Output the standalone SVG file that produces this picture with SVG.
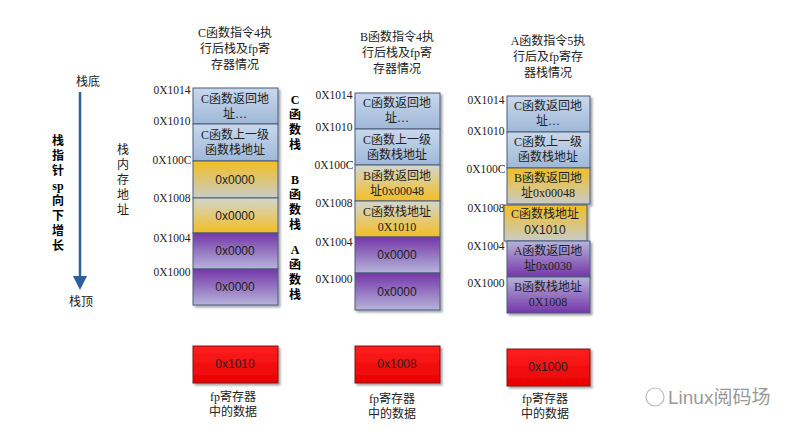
<svg xmlns="http://www.w3.org/2000/svg" width="809" height="429" viewBox="0 0 809 429">
<defs>
<linearGradient id="gb" x1="0" y1="0" x2="0" y2="1"><stop offset="0" stop-color="#c9d8ec"/><stop offset="1" stop-color="#9fb8d8"/></linearGradient>
<linearGradient id="gy" x1="0" y1="0" x2="0" y2="1"><stop offset="0" stop-color="#d3d6cf"/><stop offset="1" stop-color="#f3be22"/></linearGradient>
<linearGradient id="gy2" x1="0" y1="0" x2="0" y2="1"><stop offset="0" stop-color="#f3be22"/><stop offset="1" stop-color="#c8ccc8"/></linearGradient>
<linearGradient id="gp" x1="0" y1="0" x2="0" y2="1"><stop offset="0" stop-color="#7436a8"/><stop offset="1" stop-color="#b6b4da"/></linearGradient>
<linearGradient id="gp2" x1="0" y1="0" x2="0" y2="1"><stop offset="0" stop-color="#b6b4da"/><stop offset="1" stop-color="#7436a8"/></linearGradient>
<linearGradient id="gr" x1="0" y1="0" x2="0" y2="1"><stop offset="0" stop-color="#ff2020"/><stop offset="1" stop-color="#e80000"/></linearGradient>
<marker id="ah" viewBox="0 0 10 10" refX="5" refY="2" markerUnits="userSpaceOnUse" markerWidth="14" markerHeight="14" orient="auto"><path d="M0,0 L10,0 L5,10 z" fill="#2f5f9a" transform="rotate(-90 5 5)"/></marker>
<filter id="sh"><feDropShadow dx="2" dy="2" stdDeviation="1.2" flood-color="#000" flood-opacity="0.35"/></filter>
</defs>
<style>
text{font-family:"Liberation Serif","Noto Sans CJK SC",serif;font-size:12px;fill:#222;}
.c{text-anchor:middle}
.s{font-family:"Liberation Sans","Noto Sans CJK SC",sans-serif}
.b{font-weight:bold;fill:#000}
.cell{stroke:#4a5a78;stroke-width:1}
.red{stroke:#7a1010;stroke-width:1}
.addr{font-size:11.5px}
</style>
<rect width="809" height="429" fill="#fff"/>
<g id="connectors">
<line x1="80" y1="92" x2="80" y2="278" stroke="#2f5f9a" stroke-width="2.5"/>
<path d="M73,276 L87,276 L80,290 z" fill="#2f5f9a"/>
</g>
<g id="left-labels">
<text x="88" y="86" class="c">栈底</text>
<text x="81" y="306" class="c">栈顶</text>
<text x="58" y="145" class="c b">栈</text><text x="58" y="160" class="c b">指</text><text x="58" y="175" class="c b">针</text>
<text x="58" y="190" class="c b">sp</text><text x="58" y="205" class="c b">向</text><text x="58" y="220" class="c b">下</text>
<text x="58" y="235" class="c b">增</text><text x="58" y="250" class="c b">长</text>
<text x="123" y="154" class="c" fill="#444">栈</text><text x="123" y="169" class="c">内</text><text x="123" y="184" class="c">存</text>
<text x="123" y="199" class="c">地</text><text x="123" y="214" class="c">址</text>
<text x="295" y="104" class="c b">C</text><text x="295" y="119" class="c b">函</text><text x="295" y="134" class="c b">数</text><text x="295" y="149" class="c b">栈</text>
<text x="295" y="184" class="c b">B</text><text x="295" y="199" class="c b">函</text><text x="295" y="214" class="c b">数</text><text x="295" y="229" class="c b">栈</text>
<text x="295" y="254" class="c b">A</text><text x="295" y="269" class="c b">函</text><text x="295" y="284" class="c b">数</text><text x="295" y="299" class="c b">栈</text>
</g>
<g id="col1">
<text x="235" y="37" class="c">C函数指令4执</text><text x="235" y="53" class="c">行后栈及fp寄</text><text x="235" y="69" class="c">存器情况</text>
<text x="172" y="94" class="c addr">0X1014</text><text x="172" y="125" class="c addr">0X1010</text><text x="172" y="164" class="c addr">0X100C</text>
<text x="172" y="202" class="c addr">0X1008</text><text x="172" y="242" class="c addr">0X1004</text><text x="172" y="276" class="c addr">0X1000</text>
<g filter="url(#sh)">
<rect x="193" y="88" width="85" height="36" fill="url(#gb)" class="cell"/>
<rect x="193" y="124" width="85" height="37" fill="url(#gb)" class="cell"/>
<rect x="193" y="161" width="85" height="37" fill="url(#gy2)" class="cell"/>
<rect x="193" y="198" width="85" height="35" fill="url(#gy)" class="cell"/>
<rect x="193" y="233" width="85" height="36" fill="url(#gp)" class="cell"/>
<rect x="193" y="269" width="85" height="36" fill="url(#gp)" class="cell"/>
</g>
<text x="235" y="103" class="c">C函数返回地</text><text x="235" y="118" class="c">址…</text>
<text x="235" y="139" class="c">C函数上一级</text><text x="235" y="154" class="c">函数栈地址</text>
<text x="235" y="184" class="c s">0x0000</text><text x="235" y="220" class="c s">0x0000</text>
<text x="235" y="255" class="c s">0x0000</text><text x="235" y="291" class="c s">0x0000</text>
</g>
<g id="col2">
<text x="397" y="41" class="c">B函数指令4执</text><text x="397" y="57" class="c">行后栈及fp寄</text><text x="397" y="73" class="c">存器情况</text>
<text x="334" y="99" class="c addr">0X1014</text><text x="334" y="131" class="c addr">0X1010</text><text x="334" y="169" class="c addr">0X100C</text>
<text x="334" y="207" class="c addr">0X1008</text><text x="334" y="246" class="c addr">0X1004</text><text x="334" y="283" class="c addr">0X1000</text>
<g filter="url(#sh)">
<rect x="355" y="93" width="85" height="36" fill="url(#gb)" class="cell"/>
<rect x="355" y="129" width="85" height="36" fill="url(#gb)" class="cell"/>
<rect x="355" y="165" width="85" height="36" fill="url(#gy)" class="cell"/>
<rect x="355" y="201" width="85" height="36" fill="url(#gy)" class="cell"/>
<rect x="355" y="237" width="85" height="36" fill="url(#gp)" class="cell"/>
<rect x="355" y="273" width="85" height="37" fill="url(#gp)" class="cell"/>
</g>
<text x="397" y="107" class="c">C函数返回地</text><text x="397" y="122" class="c">址…</text>
<text x="397" y="144" class="c">C函数上一级</text><text x="397" y="159" class="c">函数栈地址</text>
<text x="397" y="180" class="c">B函数返回地</text><text x="397" y="195" class="c">址0x00048</text>
<text x="397" y="216" class="c">C函数栈地址</text><text x="397" y="231" class="c">0X1010</text>
<text x="397" y="259" class="c s">0x0000</text><text x="397" y="296" class="c s">0x0000</text>
</g>
<g id="col3">
<text x="548" y="45" class="c">A函数指令5执</text><text x="548" y="61" class="c">行后及fp寄存</text><text x="548" y="77" class="c">器栈情况</text>
<text x="486" y="104" class="c addr">0X1014</text><text x="486" y="135" class="c addr">0X1010</text><text x="486" y="173" class="c addr">0X100C</text>
<text x="486" y="212" class="c addr">0X1008</text><text x="486" y="250" class="c addr">0X1004</text><text x="486" y="287" class="c addr">0X1000</text>
<g filter="url(#sh)">
<rect x="507" y="96" width="83" height="36" fill="url(#gb)" class="cell"/>
<rect x="507" y="132" width="83" height="36" fill="url(#gb)" class="cell"/>
<rect x="507" y="168" width="83" height="36" fill="url(#gy2)" class="cell"/>
<rect x="504" y="205" width="83" height="36" fill="url(#gy2)" class="cell"/>
<rect x="507" y="241" width="83" height="36" fill="url(#gp2)" class="cell"/>
<rect x="507" y="277" width="83" height="36" fill="url(#gp2)" class="cell"/>
</g>
<text x="548" y="110" class="c">C函数返回地</text><text x="548" y="125" class="c">址…</text>
<text x="548" y="146" class="c">C函数上一级</text><text x="548" y="161" class="c">函数栈地址</text>
<text x="548" y="182" class="c">B函数返回地</text><text x="548" y="197" class="c">址0x00048</text>
<text x="545" y="218" class="c">C函数栈地址</text><text x="545" y="234" class="c s">0X1010</text>
<text x="548" y="255" class="c">A函数返回地</text><text x="548" y="270" class="c">址0x0030</text>
<text x="548" y="291" class="c">B函数栈地址</text><text x="548" y="306" class="c">0X1008</text>
</g>
<g id="fp1">
<rect x="193" y="346" width="85" height="37" fill="url(#gr)" class="red" filter="url(#sh)"/>
<text x="235" y="368" class="c s">0x1010</text>
<text x="233" y="401" class="c">fp寄存器</text><text x="233" y="416" class="c">中的数据</text>
</g>
<g id="fp2">
<rect x="355" y="346" width="85" height="37" fill="url(#gr)" class="red" filter="url(#sh)"/>
<text x="397" y="368" class="c s">0x1008</text>
<text x="392" y="403" class="c">fp寄存器</text><text x="392" y="418" class="c">中的数据</text>
</g>
<g id="fp3">
<rect x="507" y="349" width="83" height="37" fill="url(#gr)" class="red" filter="url(#sh)"/>
<text x="548" y="371" class="c s">0x1000</text>
<text x="545" y="403" class="c">fp寄存器</text><text x="545" y="418" class="c">中的数据</text>
</g>
<g id="watermark">
<circle cx="655" cy="397" r="9" fill="none" stroke="#bbb" stroke-width="1.2"/>
<text x="668" y="404" class="s" style="font-size:19px;fill:#999">Linux阅码场</text>
</g>
</svg>
